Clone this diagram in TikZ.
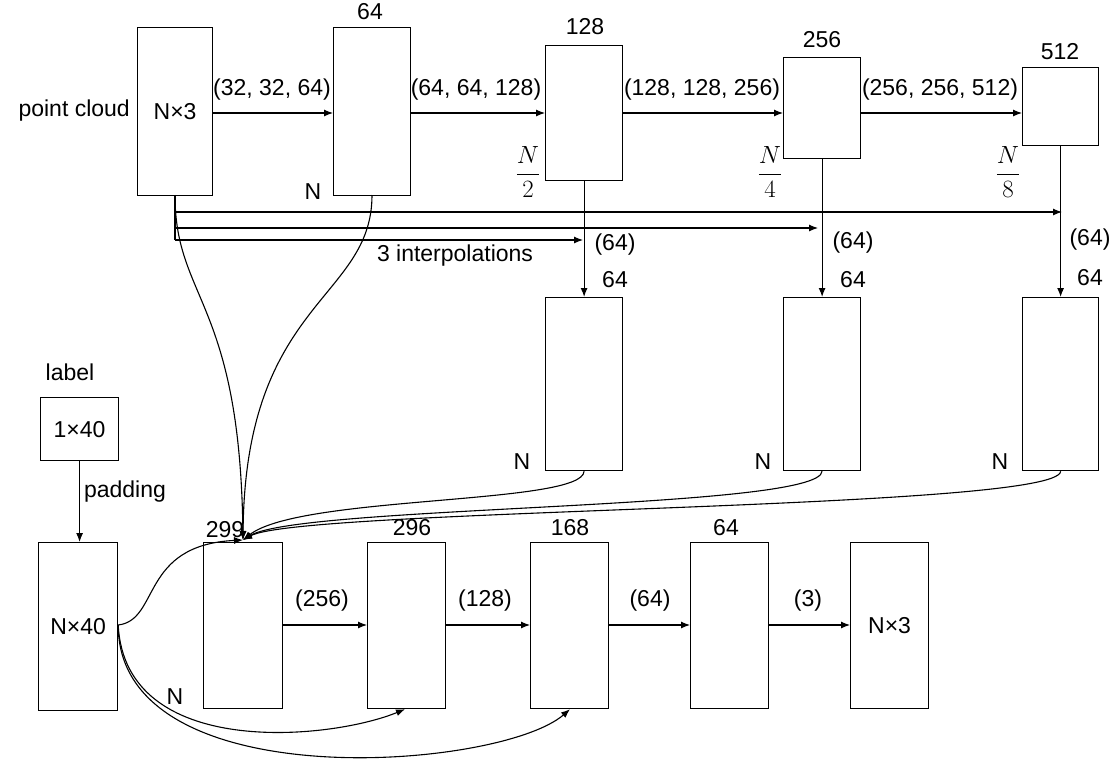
\documentclass[tikz,border=0pt]{standalone}
\usepackage{fontspec}
\setmainfont{Liberation Sans}
\usetikzlibrary{arrows.meta}
\begin{document}
\begin{tikzpicture}[x=1pt,y=-1pt,
  box/.style={draw,line width=1.2pt,inner sep=0pt},
  lab/.style={inner sep=1pt,font=\fontsize{23}{27}\selectfont},
  arr/.style={line width=1.1pt,-{Latex[length=9pt,width=7pt]}},
  ln/.style={line width=1.1pt}]
\useasboundingbox (0,0) rectangle (1115,758);
\newcommand{\bx}[5]{\node[box,minimum width=#3-#2,minimum height=#5-#4,anchor=north west] (#1) at (#2,#4) {};}
\bx{A}{137}{212}{27}{195}
\bx{B}{333}{410}{27}{195}
\bx{C}{545}{622}{45}{180}
\bx{D}{783}{860}{57}{158}
\bx{E}{1022}{1098}{67}{145}
\bx{F}{545}{622}{297}{470}
\bx{G}{783}{860}{297}{470}
\bx{H}{1022}{1098}{297}{470}
\bx{L}{40}{118}{397}{460}
\bx{P}{38}{117}{542}{710}
\bx{Q}{203}{282}{542}{708}
\bx{R}{367}{445}{542}{708}
\bx{S}{530}{608}{542}{708}
\bx{T}{690}{768}{542}{708}
\bx{U}{850}{928}{542}{708}
\node[lab] at (A.center) {N×3};
\node[lab] at (L.center) {1×40};
\node[lab] at (P.center) {N×40};
\node[lab] at (U.center) {N×3};
\node[lab,anchor=east] (pc) at (131,111) {point cloud};
\node[lab] (t64) at (370,12) {64};
\node[lab] (t128) at (585,27) {128};
\node[lab] (t256) at (822,40) {256};
\node[lab] (t512) at (1060,52) {512};
\node[lab] (n2) at (528,172) {$\displaystyle\frac{N}{2}$};
\node[lab] (n4) at (770,172) {$\displaystyle\frac{N}{4}$};
\node[lab] (n8) at (1008,172) {$\displaystyle\frac{N}{8}$};
\node[lab] (nB) at (313,192) {N};
\node[lab] (l1) at (272,90) {(32, 32, 64)};
\node[lab] (l2) at (476,90) {(64, 64, 128)};
\node[lab] (l3) at (702,90) {(128, 128, 256)};
\node[lab] (l4) at (940,90) {(256, 256, 512)};
\node[lab] (int) at (455,256) {3 interpolations};
\node[lab] at (615,245) {(64)};
\node[lab] at (615,280) {64};
\node[lab] at (853,243) {(64)};
\node[lab] at (853,280) {64};
\node[lab] at (1090,240) {(64)};
\node[lab] at (1090,278) {64};
\node[lab] at (522,462) {N};
\node[lab] at (763,462) {N};
\node[lab] at (1000,462) {N};
\node[lab] at (70,372) {label};
\node[lab] at (125,492) {padding};
\node[lab] at (225,530) {299};
\node[lab] at (412,528) {296};
\node[lab] at (570,528) {168};
\node[lab] at (726,528) {64};
\node[lab] at (175,697) {N};
\node[lab] at (322,601) {(256)};
\node[lab] at (485,601) {(128)};
\node[lab] at (650,601) {(64)};
\node[lab] at (808,601) {(3)};
\coordinate (j) at (243,540);
\draw[arr] (A.east |- 0,113) -- (B.west |- 0,113);
\draw[arr] (B.east |- 0,113) -- (C.west |- 0,113);
\draw[arr] (C.east |- 0,113) -- (D.west |- 0,113);
\draw[arr] (D.east |- 0,113) -- (E.west |- 0,113);
\draw[ln] (175,195) -- (175,240);
\draw[arr] (175,212) -- (1062,212);
\draw[arr] (175,228) -- (818,228);
\draw[arr] (175,240) -- (583,240);
\draw[arr] (C.south) -- (F.north);
\draw[arr] (D.south) -- (G.north);
\draw[arr] (E.south) -- (H.north);
\draw[arr] (L.south) -- (P.north -| L.south);
\draw[arr] (Q.east |- 0,625) -- (R.west |- 0,625);
\draw[arr] (R.east |- 0,625) -- (S.west |- 0,625);
\draw[arr] (S.east |- 0,625) -- (T.west |- 0,625);
\draw[arr] (T.east |- 0,625) -- (U.west |- 0,625);
\draw[arr] (175,195) .. controls (175,300) and (240,300) .. (j);
\draw[arr] (372,195) .. controls (372,300) and (245,300) .. (j);
\draw[arr] (F.south) .. controls (583,505) and (300,495) .. (j);
\draw[arr] (G.south) .. controls (820,510) and (300,505) .. (j);
\draw[arr] (H.south) .. controls (1060,510) and (300,508) .. (j);
\draw[arr] (P.east |- 0,625) .. controls (160,620) and (140,545) .. (j);
\draw[arr] (P.east |- 0,625) .. controls (125,760) and (330,740) .. (R.south -| 405,0);
\draw[arr] (P.east |- 0,625) .. controls (118,800) and (500,770) .. (S.south -| 570,0);
\end{tikzpicture}
\end{document}
